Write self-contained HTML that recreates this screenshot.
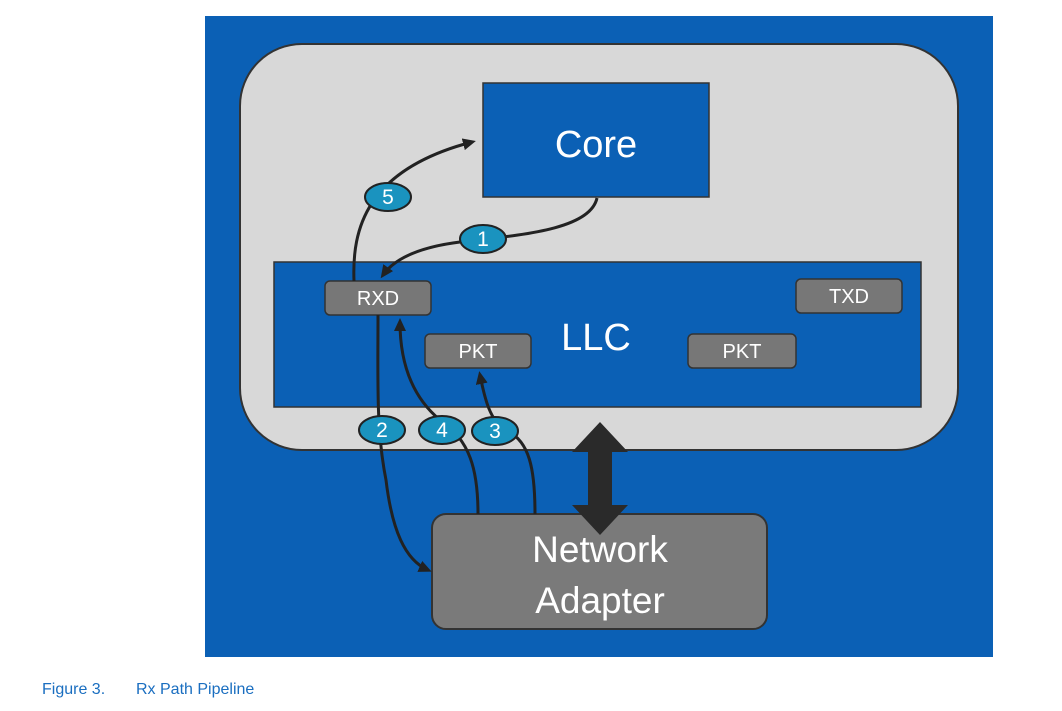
<!DOCTYPE html>
<html><head><style>
body{margin:0;width:1062px;height:711px;background:#fff;position:relative;overflow:hidden;font-family:"Liberation Sans",sans-serif}
.cap{position:absolute;top:681px;font-size:16px;color:#1a6ec0;white-space:nowrap}
</style></head><body>
<svg width="1062" height="711" style="position:absolute;left:0;top:0">
<defs>
<marker id="a" markerWidth="13" markerHeight="12" refX="9" refY="6" orient="auto" markerUnits="userSpaceOnUse"><path d="M0,0 L13,6 L0,12 z" fill="#222"/></marker>
</defs>
<rect x="205" y="16" width="788" height="641" fill="#0b60b5"/>
<rect x="240" y="44" width="718" height="406" rx="62" fill="#d8d8d8" stroke="#333" stroke-width="2"/>
<rect x="483" y="83" width="226" height="114" fill="#0b60b5" stroke="#333" stroke-width="1.5"/>
<text x="596" y="157" font-size="38" fill="#fff" text-anchor="middle">Core</text>
<rect x="274" y="262" width="647" height="145" fill="#0b60b5" stroke="#333" stroke-width="1.5"/>
<text x="596" y="350" font-size="38" fill="#fff" text-anchor="middle">LLC</text>
<g fill="#777" stroke="#333" stroke-width="1.5">
<rect x="325" y="281" width="106" height="34" rx="5"/>
<rect x="425" y="334" width="106" height="34" rx="5"/>
<rect x="688" y="334" width="108" height="34" rx="5"/>
<rect x="796" y="279" width="106" height="34" rx="5"/>
</g>
<g fill="#fff" font-size="20" text-anchor="middle">
<text x="378" y="305">RXD</text><text x="478" y="358">PKT</text><text x="742" y="358">PKT</text><text x="849" y="303">TXD</text>
</g>
<rect x="432" y="514" width="335" height="115" rx="14" fill="#7a7a7a" stroke="#333" stroke-width="2"/>
<text x="600" y="562" font-size="37" fill="#fff" text-anchor="middle">Network</text>
<text x="600" y="613" font-size="37" fill="#fff" text-anchor="middle">Adapter</text>
<path d="M600,422 L628,452 L612,452 L612,505 L628,505 L600,535 L572,505 L588,505 L588,452 L572,452 Z" fill="#2a2a2a"/>
<g fill="none" stroke="#222" stroke-width="3">
<path d="M597,198 C590,230 520,235 460,242 C420,247 395,258 383,275" marker-end="url(#a)"/>
<path d="M354,281 C352,230 365,170 472,142" marker-end="url(#a)"/>
<path d="M378,315 C378,380 376,430 386,480 C392,530 405,560 428,570" marker-end="url(#a)"/>
<path d="M478,514 C478,470 470,440 440,420 C410,395 400,360 400,322" marker-end="url(#a)"/>
<path d="M535,514 C535,470 530,440 505,430 C490,420 485,400 480,375" marker-end="url(#a)"/>
</g>
<g fill="#1a93bf" stroke="#222" stroke-width="2">
<ellipse cx="388" cy="197" rx="23" ry="14"/>
<ellipse cx="483" cy="239" rx="23" ry="14"/>
<ellipse cx="382" cy="430" rx="23" ry="14"/>
<ellipse cx="442" cy="430" rx="23" ry="14"/>
<ellipse cx="495" cy="431" rx="23" ry="14"/>
</g>
<g fill="#fff" font-size="21" text-anchor="middle">
<text x="388" y="204">5</text><text x="483" y="246">1</text><text x="382" y="437">2</text><text x="442" y="437">4</text><text x="495" y="438">3</text>
</g>
</svg>
<div class="cap" style="left:42px">Figure 3.</div>
<div class="cap" style="left:136px">Rx Path Pipeline</div>
</body></html>
